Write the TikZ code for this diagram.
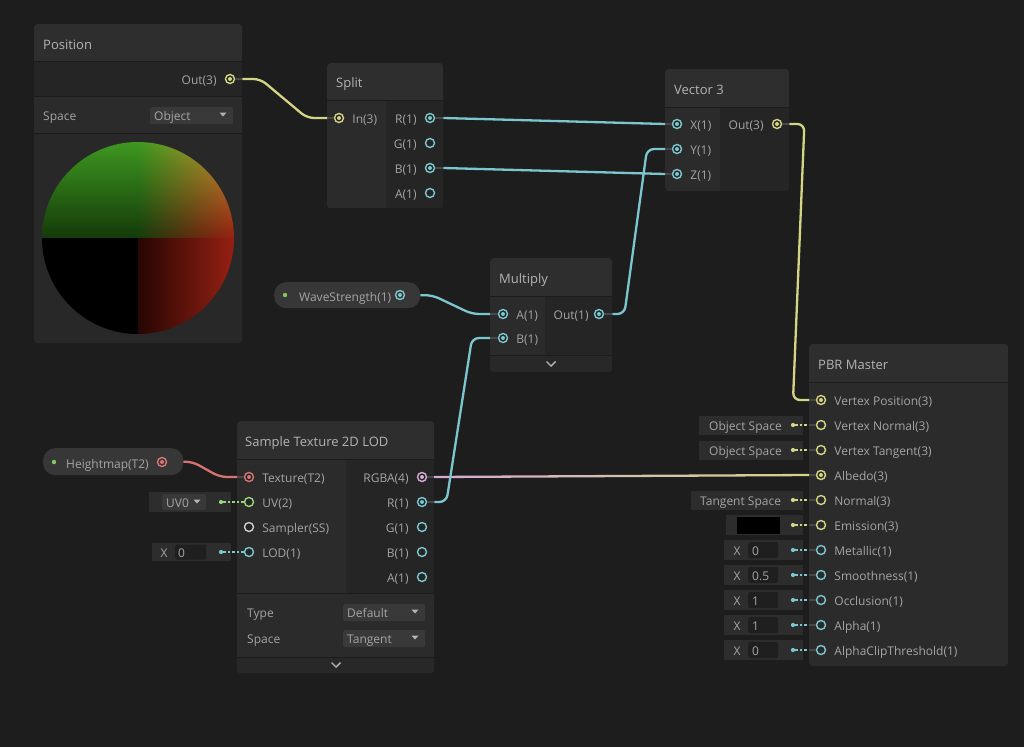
\documentclass[tikz,border=0pt]{standalone}
\usepackage{fontspec}
\setmainfont{Open Sans}
\usetikzlibrary{positioning, calc, shadings}
\definecolor{canvas}{RGB}{29,29,29}
\definecolor{hdr}{RGB}{46,46,46}
\definecolor{colin}{RGB}{43,43,43}
\definecolor{colout}{RGB}{37,37,37}
\definecolor{prev}{RGB}{40,40,40}
\definecolor{sepc}{RGB}{28,28,28}
\definecolor{pillc}{RGB}{55,55,55}
\definecolor{inboxc}{RGB}{45,45,45}
\definecolor{fieldc}{RGB}{31,31,31}
\definecolor{dropc}{RGB}{57,57,57}
\definecolor{stubc}{RGB}{72,72,72}
\definecolor{txt}{RGB}{165,165,165}
\definecolor{txthi}{RGB}{180,180,180}
\definecolor{cyanw}{RGB}{124,198,206}
\definecolor{yelw}{RGB}{212,212,132}
\definecolor{pinkw}{RGB}{214,170,214}
\definecolor{redw}{RGB}{214,116,116}
\definecolor{greenw}{RGB}{150,214,125}
\definecolor{whitep}{RGB}{205,205,205}
\definecolor{propdot}{RGB}{132,200,92}
\definecolor{gtop}{RGB}{62,152,32}
\definecolor{gmid}{RGB}{20,58,10}
\definecolor{otop}{RGB}{200,150,45}
\definecolor{rdark}{RGB}{38,6,3}
\definecolor{rmid}{RGB}{150,32,18}
\tikzset{
  panel/.style={rectangle, rounded corners=4pt, fill=colin, inner sep=0pt, anchor=north west},
  pill/.style={rectangle, rounded corners=12pt, fill=pillc, inner sep=0pt, anchor=north west},
  inbox/.style={rectangle, fill=inboxc, inner sep=0pt},
  field/.style={rectangle, rounded corners=2pt, fill=fieldc, inner sep=0pt, anchor=west},
  drop/.style={rectangle, rounded corners=2pt, fill=dropc, inner sep=0pt, anchor=north west},
  title/.style={anchor=west, inner sep=0pt, text=txthi, text height=12pt, text depth=0pt, font=\fontsize{13}{15}\selectfont},
  lbl/.style={anchor=west, inner sep=0pt, text=txt, text height=11.4pt, text depth=0pt, font=\fontsize{12}{14}\selectfont},
  lblr/.style={lbl, anchor=east},
  port/.style={circle, draw=#1, line width=1.4pt, minimum size=9pt, inner sep=0pt, fill=colout},
  linked/.style={path picture={\fill[#1] (path picture bounding box.center) circle (2pt);}},
  inldot/.style={circle, fill=#1, minimum size=4.2pt, inner sep=0pt},
  inl/.style={draw=#1, line width=1.6pt, dash pattern=on 2.5pt off 2pt},
  stub/.style={draw=stubc, line width=2pt},
  wire/.style={draw=#1, line width=2.3pt, rounded corners=7pt},
  sepline/.style={draw=sepc, line width=1pt},
  chev/.style={draw=txthi, line width=1.4pt},
}

\begin{document}
\begin{tikzpicture}[x=1pt, y=-1pt]
\fill[canvas] (0,0) rectangle (1024,747);

% Position node
\node[panel, minimum width=208pt, minimum height=319pt] (position) at (34,24) {};
\begin{scope}
  \clip[rounded corners=4pt] (position.north west) rectangle (position.south east);
  \fill[hdr] (34,24) rectangle (242,61);
  \fill[colout] (34,61) rectangle (242,96);
  \fill[colin] (34,96) rectangle (242,133);
  \fill[prev] (34,133) rectangle (242,343);
  \draw[sepline] (34,61) -- (242,61) (34,96) -- (242,96) (34,133) -- (242,133);
\end{scope}
\begin{scope}
  \clip (138,238) circle (96pt);
  \shade[top color=gtop, bottom color=gmid] (42,142) rectangle (138,238);
  \shade[upper left=gtop, upper right=otop, lower left=gmid, lower right=rmid] (138,142) rectangle (234,238);
  \shade[left color=rdark, right color=rmid] (138,238) rectangle (234,334);
  \fill[black] (42,238) rectangle (138,334);
\end{scope}
\node[title] at (43,43) {Position};
\node[port=yelw, linked=yelw] (posout) at (230,79) {};
\node[lblr, left=8pt of posout] {Out(3)};
\node[lbl] at (43,115) {Space};
\node[drop, minimum width=83pt, minimum height=17pt] (spacedd) at (150,107) {};
\node[lbl] at (154,115) {Object};
\fill[txthi] (219.5,112.5) -- (226.5,112.5) -- (223,116.5) -- cycle;

% Split node
\node[panel, minimum width=116pt, minimum height=145pt] (split) at (327,63) {};
\begin{scope}
  \clip[rounded corners=4pt] (split.north west) rectangle (split.south east);
  \fill[hdr] (327,63) rectangle (443,100);
  \fill[colin] (327,100) rectangle (386,208);
  \fill[colout] (386,100) rectangle (443,208);
  \draw[sepline] (327,100) -- (443,100);
\end{scope}
\node[title] at (336,81) {Split};
\node[port=yelw, linked=yelw] (splitin) at (339,118) {};
\node[lbl, right=8pt of splitin] {In(3)};
\foreach \t/\n/\y in {R(1)/splitR/118, G(1)/splitG/143, B(1)/splitB/168, A(1)/splitA/193} {
  \node[port=cyanw] (\n) at (430,\y) {};
  \node[lblr, left=8pt of \n] {\t};
}
\foreach \n in {splitR, splitB} \fill[cyanw] (\n) circle (2pt);

% Vector 3 node
\node[panel, minimum width=124pt, minimum height=122pt] (vec) at (665,69) {};
\begin{scope}
  \clip[rounded corners=4pt] (vec.north west) rectangle (vec.south east);
  \fill[hdr] (665,69) rectangle (789,107);
  \fill[colin] (665,107) rectangle (720,191);
  \fill[colout] (720,107) rectangle (789,191);
  \draw[sepline] (665,107) -- (789,107);
\end{scope}
\node[title] at (674,88) {Vector 3};
\foreach \t/\n/\y in {X(1)/vecX/124, Y(1)/vecY/149, Z(1)/vecZ/174} {
  \node[port=cyanw, linked=cyanw] (\n) at (677,\y) {};
  \node[lbl, right=8pt of \n] {\t};
}
\node[port=yelw, linked=yelw] (vecout) at (777,124) {};
\node[lblr, left=8pt of vecout] {Out(3)};

% WaveStrength property
\node[pill, minimum width=146pt, minimum height=26pt] (wave) at (274,282) {};
\fill[propdot] (285,295) circle (2.2pt);
\node[lbl] at (299,296) {WaveStrength(1)};
\node[port=cyanw, linked=cyanw, fill=pillc] (waveout) at (400,295) {};

% Multiply node
\node[panel, minimum width=122pt, minimum height=114pt] (mul) at (490,258) {};
\begin{scope}
  \clip[rounded corners=4pt] (mul.north west) rectangle (mul.south east);
  \fill[hdr] (490,258) rectangle (612,296);
  \fill[colin] (490,296) rectangle (545,355);
  \fill[colout] (545,296) rectangle (612,355);
  \fill[prev] (490,355) rectangle (612,372);
  \draw[sepline] (490,296) -- (612,296) (490,355) -- (612,355);
\end{scope}
\node[title] at (499,277) {Multiply};
\node[port=cyanw, linked=cyanw] (mulA) at (503,314) {};
\node[lbl, right=8pt of mulA] {A(1)};
\node[port=cyanw, linked=cyanw] (mulB) at (503,338) {};
\node[lbl, right=8pt of mulB] {B(1)};
\node[port=cyanw, linked=cyanw] (mulout) at (599,314) {};
\node[lblr, left=5pt of mulout] {Out(1)};
\draw[chev] (546.5,361.5) -- (551,366) -- (555.5,361.5);

% Heightmap property
\node[pill, minimum width=140pt, minimum height=27pt] (hm) at (43,448) {};
\fill[propdot] (54,462) circle (2.2pt);
\node[lbl] at (66,463) {Heightmap(T2)};
\node[port=redw, linked=redw, fill=pillc] (hmout) at (162,462) {};

% Sample Texture 2D LOD node
\node[panel, minimum width=197pt, minimum height=252pt] (sample) at (237,421) {};
\begin{scope}
  \clip[rounded corners=4pt] (sample.north west) rectangle (sample.south east);
  \fill[hdr] (237,421) rectangle (434,459);
  \fill[colin] (237,459) rectangle (346,593);
  \fill[colout] (346,459) rectangle (434,593);
  \fill[colin] (237,593) rectangle (434,657);
  \fill[prev] (237,657) rectangle (434,673);
  \draw[sepline] (237,459) -- (434,459) (237,593) -- (434,593) (237,657) -- (434,657);
\end{scope}
\node[title] at (245,440) {Sample Texture 2D LOD};
\node[port=redw, linked=redw] (texin) at (249,477) {};
\node[lbl, right=8pt of texin] {Texture(T2)};
\node[port=greenw] (uvin) at (249,502) {};
\node[lbl, right=8pt of uvin] {UV(2)};
\node[port=whitep] (sampin) at (249,527) {};
\node[lbl, right=8pt of sampin] {Sampler(SS)};
\node[port=cyanw] (lodin) at (249,552) {};
\node[lbl, right=8pt of lodin] {LOD(1)};
\node[port=pinkw, linked=pinkw] (rgba) at (422,477) {};
\node[lblr, left=8pt of rgba] {RGBA(4)};
\foreach \t/\n/\y in {R(1)/sR/502, G(1)/sG/527, B(1)/sB/552, A(1)/sA/577} {
  \node[port=cyanw] (\n) at (422,\y) {};
  \node[lblr, left=8pt of \n] {\t};
}
\fill[cyanw] (sR) circle (2pt);
\node[lbl] at (247,612) {Type};
\node[drop, minimum width=82pt, minimum height=17pt] (typedd) at (343,604) {};
\node[lbl] at (347,612) {Default};
\fill[txthi] (411.5,609.5) -- (418.5,609.5) -- (415,613.5) -- cycle;
\node[lbl] at (247,638) {Space};
\node[drop, minimum width=82pt, minimum height=17pt] (spacedd2) at (343,630) {};
\node[lbl] at (347,638) {Tangent};
\fill[txthi] (411.5,635.5) -- (418.5,635.5) -- (415,639.5) -- cycle;
\draw[chev] (331.5,662.5) -- (336,667) -- (340.5,662.5);

% inline inputs of the sampler
\node[inbox, minimum width=82pt, minimum height=20pt, anchor=north west] (uvbox) at (149,492) {};
\node[drop, minimum width=44pt, minimum height=16pt] (uvdd) at (162,494) {};
\node[lbl] at (166,502) {UV0};
\fill[txthi] (193.5,499.5) -- (200.5,499.5) -- (197,503.5) -- cycle;
\node[inldot=greenw] (uvdot) at (221,502) {};
\node[inbox, minimum width=79pt, minimum height=18pt, anchor=north west] (lodbox) at (152,543) {};
\node[lbl, anchor=center] at (164,552) {X};
\node[field, minimum width=31pt, minimum height=15pt] (lodval) at (175,552) {};
\node[lbl] at (178,552) {0};
\node[inldot=cyanw] (loddot) at (221,552) {};
\draw[inl=greenw] (uvdot) -- (uvin.west);
\draw[inl=cyanw] (loddot) -- (lodin.west);

% PBR Master node
\node[panel, minimum width=199pt, minimum height=322pt] (pbr) at (809,344) {};
\begin{scope}
  \clip[rounded corners=4pt] (pbr.north west) rectangle (pbr.south east);
  \fill[hdr] (809,344) rectangle (1008,382);
  \draw[sepline] (809,382) -- (1008,382);
\end{scope}
\node[title] at (818,363) {PBR Master};
\foreach \t/\c [count=\i from 0] in {Vertex Position(3)/yelw, Vertex Normal(3)/yelw,
    Vertex Tangent(3)/yelw, Albedo(3)/yelw, Normal(3)/yelw, Emission(3)/yelw,
    Metallic(1)/cyanw, Smoothness(1)/cyanw, Occlusion(1)/cyanw, Alpha(1)/cyanw,
    AlphaClipThreshold(1)/cyanw} {
  \node[port=\c, fill=colin] (pin\i) at (821,{400+25*\i}) {};
  \node[lbl, right=8pt of pin\i] {\t};
}
\foreach \n in {pin0, pin3} \fill[yelw] (\n) circle (2pt);

% inline inputs of the master node
\foreach \i in {1,2} {
  \node[inbox, minimum width=104pt, minimum height=19pt, anchor=west] (osbox\i) at (699,{400+25*\i}) {};
  \node[lbl] at (709,{400+25*\i}) {Object Space};
}
\node[inbox, minimum width=112pt, minimum height=19pt, anchor=west] (tsbox) at (691,500) {};
\node[lbl] at (700,500) {Tangent Space};
\node[inbox, minimum width=77pt, minimum height=20pt, anchor=west] (embox) at (726,525) {};
\fill[black] (737,517) rectangle (780,534);
\foreach \v [count=\i from 6] in {0,0.5,1,1,0} {
  \node[inbox, minimum width=79pt, minimum height=20pt, anchor=west] (xbox\i) at (724,{400+25*\i}) {};
  \node[lbl, anchor=center] at (737,{400+25*\i}) {X};
  \node[field, minimum width=30pt, minimum height=16pt] (xval\i) at (748,{400+25*\i}) {};
  \node[lbl] at (752,{400+25*\i}) {\v};
}
\foreach \i in {1,2,4,5} {
  \node[inldot=yelw] (dot\i) at (793,{400+25*\i}) {};
  \draw[inl=yelw] (dot\i) -- (pin\i -| pbr.west);
  \draw[stub] (pin\i -| pbr.west) -- (pin\i.west);
}
\foreach \i in {6,...,10} {
  \node[inldot=cyanw] (dot\i) at (793,{400+25*\i}) {};
  \draw[inl=cyanw] (dot\i) -- (pin\i -| pbr.west);
  \draw[stub] (pin\i -| pbr.west) -- (pin\i.west);
}

% stubs between linked ports and node edges
\draw[stub] (posout.east) -- (posout -| position.east);
\draw[stub] (splitin.west) -- (splitin -| split.west);
\draw[stub] (splitR.east) -- (splitR -| split.east);
\draw[stub] (splitB.east) -- (splitB -| split.east);
\foreach \n in {vecX, vecY, vecZ} \draw[stub] (\n.west) -- (\n -| vec.west);
\draw[stub] (vecout.east) -- (vecout -| vec.east);
\draw[stub] (mulA.west) -- (mulA -| mul.west);
\draw[stub] (mulB.west) -- (mulB -| mul.west);
\draw[stub] (mulout.east) -- (mulout -| mul.east);
\draw[stub] (texin.west) -- (texin -| sample.west);
\draw[stub] (rgba.east) -- (rgba -| sample.east);
\draw[stub] (sR.east) -- (sR -| sample.east);
\draw[stub] (pin0.west) -- (pin0 -| pbr.west);
\draw[stub] (pin3.west) -- (pin3 -| pbr.west);

% wires
\shade[left color=pinkw, right color=yelw] ($(rgba -| sample.east)+(0,-1.15)$) -- ($(pin3 -| pbr.west)+(0,-1.15)$)
  -- ($(pin3 -| pbr.west)+(0,1.15)$) -- ($(rgba -| sample.east)+(0,1.15)$) -- cycle;
\draw[wire=yelw] (posout -| position.east) -- ++(18,0) -- ($(splitin -| split.west)+(-20,0)$) -- (splitin -| split.west);
\draw[wire=cyanw] (splitR -| split.east) -- (vecX -| vec.west);
\draw[wire=cyanw] (splitB -| split.east) -- (vecZ -| vec.west);
\draw[wire=cyanw] (mulout -| mul.east) -- ++(12,0) -- ($(vecY -| vec.west)+(-18,0)$) -- (vecY -| vec.west);
\draw[wire=cyanw] (wave.east) -- ++(12,0) -- ($(mulA -| mul.west)+(-18,0)$) -- (mulA -| mul.west);
\draw[wire=cyanw] (sR -| sample.east) -- ++(12,0) -- ($(mulB -| mul.west)+(-18,0)$) -- (mulB -| mul.west);
\draw[wire=redw] (hm.east) -- ++(9,0) -- ($(texin -| sample.west)+(-17,0)$) -- (texin -| sample.west);
\draw[wire=yelw] (vecout -| vec.east) -- ++(15,0) -- ($(pin0 -| pbr.west)+(-16,0)$) -- (pin0 -| pbr.west);
\end{tikzpicture}
\end{document}
